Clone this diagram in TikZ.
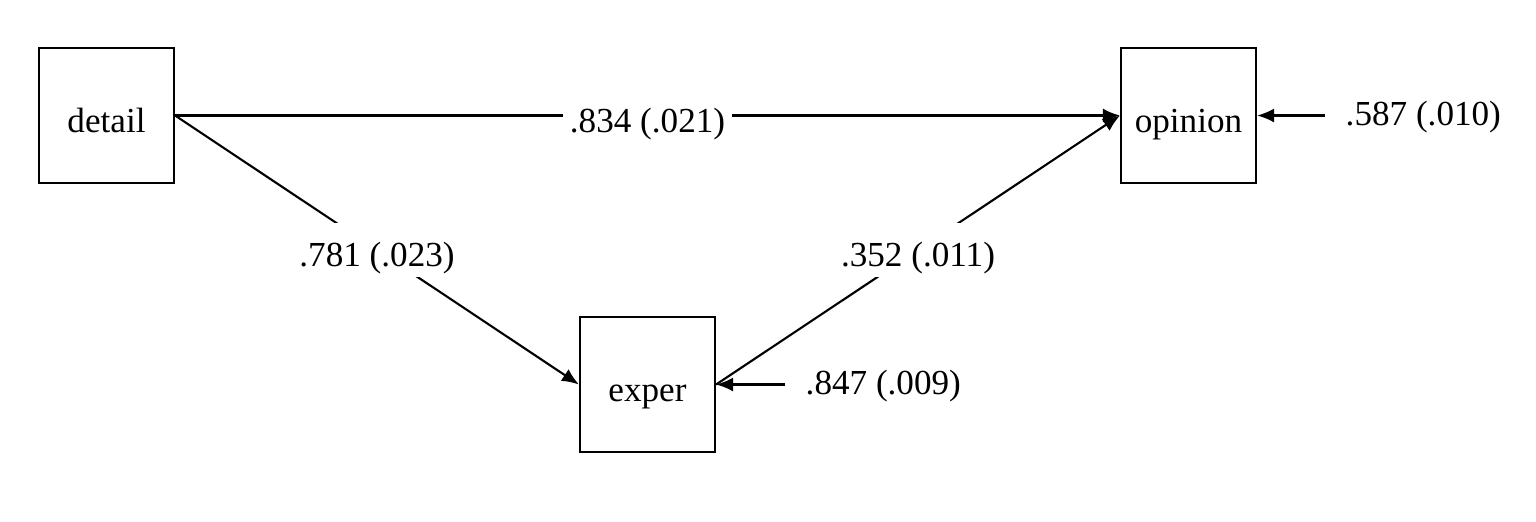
\documentclass[tikz,border=0pt]{standalone}
\usepackage{fontspec}
\setmainfont{Liberation Serif}
\usepackage{tikz}
\usetikzlibrary{arrows.meta,positioning}

\begin{document}
\begin{tikzpicture}[
  x=1cm, y=1cm,
  varbox/.style={
    rectangle, draw=black, line width=0.6pt,
    minimum width=1.35cm, minimum height=1.35cm,
    font=\fontsize{10}{12}\selectfont, inner sep=0pt,
    text height=10.6pt, text depth=1pt
  },
  pathlbl/.style={
    fill=white, inner sep=2pt,
    font=\fontsize{10}{12}\selectfont,
    text height=10.6pt, text depth=1pt
  },
  errlbl/.style={
    inner xsep=0.2cm, inner ysep=2pt,
    font=\fontsize{10}{12}\selectfont,
    text height=7.3pt, text depth=1.5pt
  },
  arr/.style={-{Latex[length=0.17cm,width=0.14cm]}, line width=0.6pt}
]

\useasboundingbox (0,0) rectangle (15.36,-5.21);

% observed variables
\node[varbox] (detail)  at (1.065,-1.155)  {detail};
\node[varbox] (opinion) at (11.885,-1.155) {opinion};
\node[varbox] (exper)   at (6.475,-3.845)  {exper};

% residual variances
\node[errlbl, anchor=west] (resop) at (13.25,-1.155) {.587 (.010)};
\node[errlbl, anchor=west] (resex) at (7.85,-3.845)  {.847 (.009)};

% paths
\draw[arr] (detail.east) -- node[pathlbl] {.834 (.021)} (opinion.west);
\draw[arr] (detail.east) -- node[pathlbl, pos=0.5] {.781 (.023)} (exper.west);
\draw[arr] (exper.east)  -- node[pathlbl, pos=0.5] {.352 (.011)} (opinion.west);

\draw[arr] (resop.west) -- (opinion.east);
\draw[arr] (resex.west) -- (exper.east);

\end{tikzpicture}
\end{document}
